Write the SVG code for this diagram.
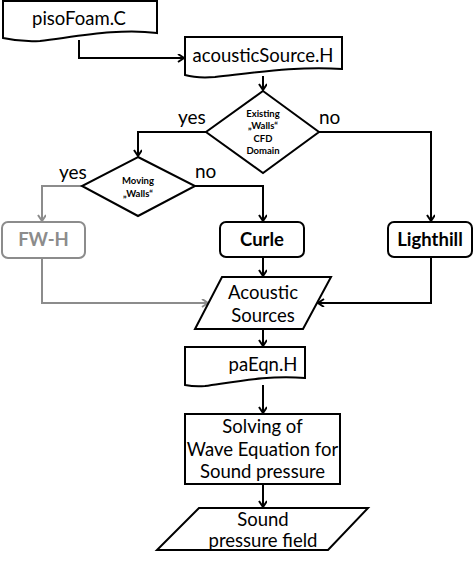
<svg xmlns="http://www.w3.org/2000/svg" width="474" height="562" viewBox="0 0 474 562">
<defs>
<style>
.s{fill:#fff;stroke:#000;stroke-width:2}
.g{fill:#fff;stroke:#8c8c8c;stroke-width:2}
.c{fill:none;stroke:#000;stroke-width:2}
.cg{fill:none;stroke:#8c8c8c;stroke-width:2}
.t{font-family:Lato,"Liberation Sans",sans-serif;font-size:18.5px;fill:#000;text-anchor:middle}
.b{font-weight:bold}
.sm{font-family:Lato,"Liberation Sans",sans-serif;font-size:9.5px;font-weight:bold;fill:#000;text-anchor:middle}
.gt{fill:#8c8c8c}
.lab{font-family:Lato,"Liberation Sans",sans-serif;font-size:19px;fill:#000}
</style>
<marker id="a" markerWidth="10" markerHeight="10" refX="7" refY="4" orient="auto" markerUnits="userSpaceOnUse">
<path d="M1,0 L7,4 L1,8" fill="none" stroke="#000" stroke-width="2"/>
</marker>
<marker id="ag" markerWidth="10" markerHeight="10" refX="7" refY="4" orient="auto" markerUnits="userSpaceOnUse">
<path d="M1,0 L7,4 L1,8" fill="none" stroke="#8c8c8c" stroke-width="2"/>
</marker>
</defs>
<rect width="474" height="562" fill="#fff"/>
<g id="connectors">
<path class="c" d="M79,40 V58 H184" marker-end="url(#a)"/>
<path class="c" d="M263,76 V90" marker-end="url(#a)"/>
<path class="c" d="M206,132 H138 V156" marker-end="url(#a)"/>
<path class="c" d="M319,132 H431 V221" marker-end="url(#a)"/>
<path class="cg" d="M82,186 H42 V221" marker-end="url(#ag)"/>
<path class="c" d="M195,186 H263 V221" marker-end="url(#a)"/>
<path class="cg" d="M42,258 V303 H208" marker-end="url(#ag)"/>
<path class="c" d="M263,257 V276" marker-end="url(#a)"/>
<path class="c" d="M431,257 V303 H318" marker-end="url(#a)"/>
<path class="c" d="M263,329 V346" marker-end="url(#a)"/>
<path class="c" d="M263,385 V413" marker-end="url(#a)"/>
<path class="c" d="M263,484 V507" marker-end="url(#a)"/>
<text class="lab" x="178" y="124">yes</text>
<text class="lab" x="319" y="124">no</text>
<text class="lab gt" x="59" y="179">yes</text>
<text class="lab" x="195" y="178">no</text>
</g>
<g id="pisoFoam">
<path class="s" d="M3,1 H157 V33 C120,28 80,36 40,41 C25,42 12,40 3,38 Z"/>
<text class="t" x="79" y="25">pisoFoam.C</text>
</g>
<g id="acousticSource">
<path class="s" d="M185,37 H342 V69 C300,66 260,72 215,77 C202,78 192,77 185,75 Z"/>
<text class="t" x="263" y="62">acousticSource.H</text>
</g>
<g id="decision1">
<path class="s" d="M263,91 L319,132 L263,173 L206,132 Z"/>
<text class="sm" x="263" y="116.5">Existing</text>
<text class="sm" x="263" y="129">„Walls“</text>
<text class="sm" x="263" y="141.5">CFD</text>
<text class="sm" x="263" y="154">Domain</text>
</g>
<g id="decision2">
<path class="s" d="M138,157 L195,186 L138,216 L82,186 Z"/>
<text class="sm" x="138" y="183.5">Moving</text>
<text class="sm" x="138" y="197">„Walls“</text>
</g>
<g id="fwh">
<rect class="g" x="2" y="222" width="83" height="36" rx="6"/>
<text class="t b gt" x="43.5" y="246">FW-H</text>
</g>
<g id="curle">
<rect class="s" x="220" y="222" width="84" height="35" rx="6"/>
<text class="t b" x="262" y="246">Curle</text>
</g>
<g id="lighthill">
<rect class="s" x="388" y="222" width="84" height="35" rx="6"/>
<text class="t b" x="430" y="246">Lighthill</text>
</g>
<g id="acousticSources">
<path class="s" d="M222,277 H331 L303,329 H195 Z"/>
<text class="t" x="263" y="299">Acoustic</text>
<text class="t" x="263" y="322">Sources</text>
</g>
<g id="paEqn">
<path class="s" d="M185,347 H305 V378 C270,375 240,381 205,386 C196,387 190,386 185,385 Z"/>
<text class="t" x="263" y="371">paEqn.H</text>
</g>
<g id="solving">
<rect class="s" x="185" y="414" width="155" height="70"/>
<text class="t" x="262.5" y="433">Solving of</text>
<text class="t" x="262.5" y="456">Wave Equation for</text>
<text class="t" x="262.5" y="478">Sound pressure</text>
</g>
<g id="soundField">
<path class="s" d="M199,508 H368 L328,550 H157 Z"/>
<text class="t" x="263" y="526">Sound</text>
<text class="t" x="263" y="547">pressure field</text>
</g>
</svg>
